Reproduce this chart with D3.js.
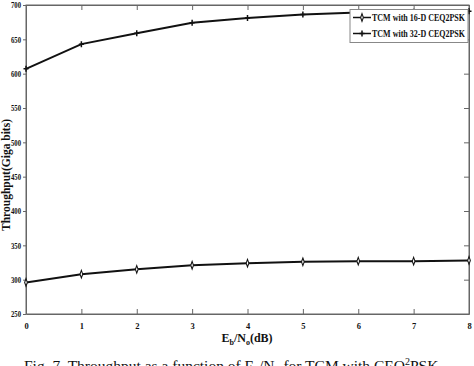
<!DOCTYPE html>
<html>
<head>
<meta charset="utf-8">
<script src="https://cdnjs.cloudflare.com/ajax/libs/d3/7.8.5/d3.min.js"></script>
<style>
  body { margin: 0; background: #fff; }
  text { font-family: "Liberation Serif", "Times New Roman", serif; }
</style>
</head>
<body>
<script>
// data
var ebno = [0, 1, 2, 3, 4, 5, 6, 7, 8];
var tcm16 = [296, 308, 315, 321, 324, 326, 327, 327, 328];
var tcm32 = [607, 643, 659, 674, 681, 686, 689, 690, 691];
var xTicks = [0, 1, 2, 3, 4, 5, 6, 7, 8];
var yTicks = [250, 300, 350, 400, 450, 500, 550, 600, 650, 700];
var seriesNames = ["TCM with 16-D CEQ2PSK", "TCM with 32-D CEQ2PSK"];

var margin = {top: 5, right: 5, bottom: 52, left: 26},
    width = 474 - margin.left - margin.right,
    height = 366 - margin.top - margin.bottom;

var svg = d3.select("body").append("svg")
    .attr("width", 474)
    .attr("height", 366);

var g = svg.append("g")
    .attr("transform", "translate(" + margin.left + "," + margin.top + ")");

var x = d3.scaleLinear().domain([0, 8]).range([0, width]);
var y = d3.scaleLinear().domain([250, 700]).range([height, 0]);

// frame
g.append("rect")
    .attr("width", width)
    .attr("height", height)
    .style("fill", "none")
    .style("stroke", "#666")
    .style("stroke-width", 1);

// bottom axis (ticks inside)
g.append("g")
    .attr("transform", "translate(0," + height + ")")
    .call(d3.axisBottom(x).tickValues(xTicks).tickSizeInner(-5).tickSizeOuter(0).tickPadding(9).tickFormat(d3.format("d")));
// top ticks
g.append("g")
    .call(d3.axisTop(x).tickValues(xTicks).tickSizeInner(-5).tickSizeOuter(0).tickFormat(""));
// left axis
var yAxis = g.append("g")
    .call(d3.axisLeft(y).tickValues(yTicks).tickSizeInner(3).tickSizeOuter(0).tickPadding(2));
// right ticks
g.append("g")
    .attr("transform", "translate(" + width + ",0)")
    .call(d3.axisRight(y).tickValues(yTicks).tickSizeInner(-5).tickSizeOuter(0).tickFormat(""));

g.selectAll(".domain").style("stroke", "#666");
g.selectAll(".tick line").style("stroke", "#666");
g.selectAll(".tick text")
    .style("font-size", "8.5px")
    .style("font-weight", "bold")
    .style("fill", "#111");
// y tick labels are narrow in the figure
yAxis.selectAll(".tick text")
    .attr("textLength", 10)
    .attr("lengthAdjust", "spacingAndGlyphs");

var line = d3.line()
    .x(function(d, i) { return x(ebno[i]); })
    .y(function(d) { return y(d); });

// 16-D series (diamonds)
g.append("path")
    .datum(tcm16)
    .style("fill", "none")
    .style("stroke", "#111")
    .style("stroke-width", 2)
    .attr("d", line);

var diamond = d3.symbol().type(d3.symbolDiamond).size(10);
g.selectAll(".m16")
    .data(tcm16)
  .enter().append("path")
    .attr("class", "m16")
    .attr("transform", function(d, i) { return "translate(" + x(ebno[i]) + "," + y(d) + ") scale(0.8,1.3)"; })
    .attr("d", diamond)
    .style("fill", "#fff")
    .style("stroke", "#111")
    .style("stroke-width", 1.2);

// 32-D series (plus)
g.append("path")
    .datum(tcm32)
    .style("fill", "none")
    .style("stroke", "#111")
    .style("stroke-width", 2)
    .attr("d", line);

g.selectAll(".m32")
    .data(tcm32)
  .enter().append("path")
    .attr("class", "m32")
    .attr("transform", function(d, i) { return "translate(" + x(ebno[i]) + "," + y(d) + ")"; })
    .attr("d", "M-2.5,0H2.5M0,-3V3")
    .style("stroke", "#111")
    .style("stroke-width", 1.5);

// legend
var legend = g.append("g")
    .attr("transform", "translate(" + (width - 119) + ",4.5)");

legend.append("rect")
    .attr("width", 118)
    .attr("height", 33)
    .style("fill", "#fff")
    .style("stroke", "#888")
    .style("stroke-width", 1);

seriesNames.forEach(function(name, i) {
  var ly = 8 + i * 16;
  legend.append("line")
      .attr("x1", 3).attr("x2", 21)
      .attr("y1", ly).attr("y2", ly)
      .style("stroke", "#111")
      .style("stroke-width", 1.5);
  if (i === 0) {
    legend.append("path")
        .attr("transform", "translate(12," + ly + ") scale(0.8,1.3)")
        .attr("d", diamond)
        .style("fill", "#fff")
        .style("stroke", "#111")
        .style("stroke-width", 1.2);
  } else {
    legend.append("path")
        .attr("transform", "translate(12," + ly + ")")
        .attr("d", "M-2.5,0H2.5M0,-3V3")
        .style("stroke", "#111")
        .style("stroke-width", 1.5);
  }
  legend.append("text")
      .attr("x", 22)
      .attr("y", ly + 3)
      .attr("textLength", 93)
      .attr("lengthAdjust", "spacingAndGlyphs")
      .style("font-size", "9.5px")
      .style("font-weight", "bold")
      .style("fill", "#111")
      .text(name);
});

// y label
svg.append("text")
    .attr("transform", "translate(10,175) rotate(-90)")
    .attr("text-anchor", "middle")
    .style("font-size", "11.5px")
    .style("font-weight", "bold")
    .style("fill", "#111")
    .text("Throughput(Giga bits)");

// x label
var xl = svg.append("text")
    .attr("x", 247)
    .attr("y", 342)
    .attr("text-anchor", "middle")
    .style("font-size", "12px")
    .style("font-weight", "bold")
    .style("fill", "#111");
xl.append("tspan").text("E");
xl.append("tspan").attr("dy", 3).style("font-size", "8px").text("b");
xl.append("tspan").attr("dy", -3).text("/N");
xl.append("tspan").attr("dy", 3).style("font-size", "8px").text("o");
xl.append("tspan").attr("dy", -3).text("(dB)");

// caption (cut off at the bottom of the image, as in the figure)
var cap = svg.append("text")
    .attr("x", 24)
    .attr("y", 371)
    .style("font-size", "15.5px")
    .style("fill", "#111");
cap.append("tspan").text("Fig. 7.  Throughput as a function of E");
cap.append("tspan").attr("dy", 4).style("font-size", "10px").text("b");
cap.append("tspan").attr("dy", -4).text("/N");
cap.append("tspan").attr("dy", 4).style("font-size", "10px").text("0");
cap.append("tspan").attr("dy", -4).text(" for TCM with CEQ");
cap.append("tspan").attr("dy", -6).style("font-size", "10px").text("2");
cap.append("tspan").attr("dy", 6).text("PSK");
</script>
</body>
</html>
